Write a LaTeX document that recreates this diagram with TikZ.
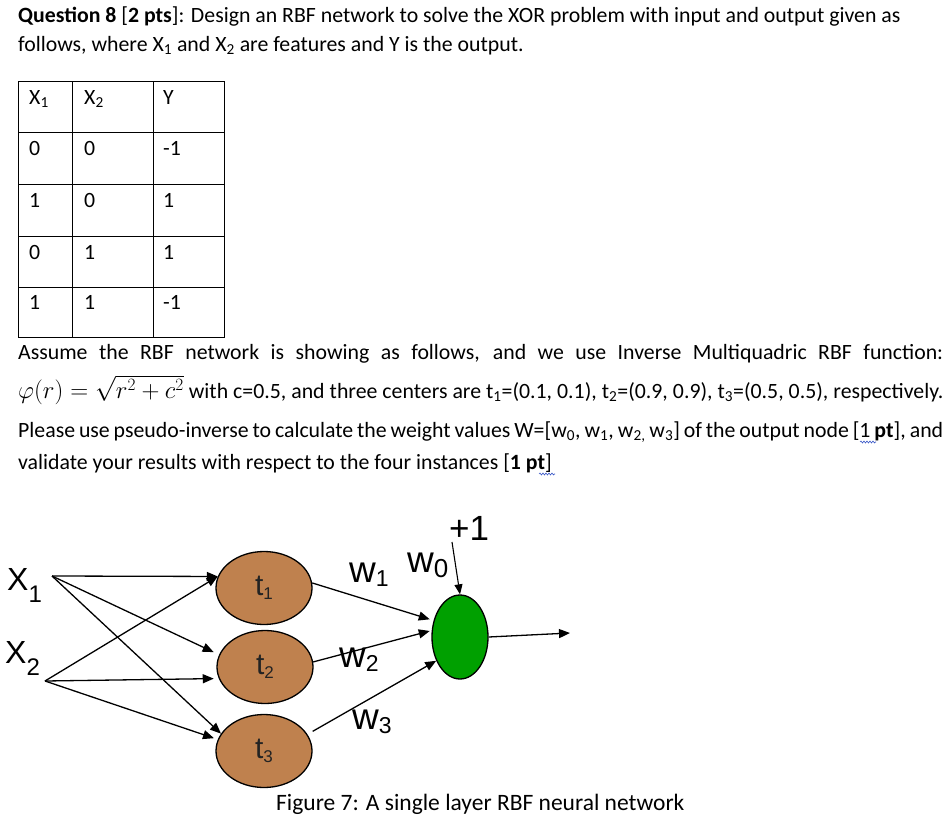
\documentclass[tikz,border=0pt]{standalone}
\usepackage{fontspec}
\setmainfont{Carlito}
\newfontfamily\arialf{Liberation Sans}
\usetikzlibrary{arrows.meta,shapes.geometric,decorations.pathmorphing}
\definecolor{rbfbrown}{RGB}{191,129,78}
\definecolor{outgreen}{RGB}{0,160,0}
\definecolor{squig}{RGB}{60,90,200}
\definecolor{tlabel}{RGB}{35,35,35}
\newcommand{\bodyfs}{\fontsize{21.8}{26}\selectfont}
\newcommand{\sbs}[1]{\textsubscript{#1}}
\begin{document}
\begin{tikzpicture}[x=1pt,y=-1pt,
  txt/.style={anchor=base west, inner sep=0pt, font=\bodyfs},
  cell/.style={anchor=base west, inner sep=0pt, font=\bodyfs},
  tline/.style={line width=0.9pt},
  rbf/.style={ellipse, draw=black, line width=1.3pt, fill=rbfbrown, text=tlabel, minimum width=96pt, minimum height=73pt, inner sep=0pt},
  outn/.style={ellipse, draw=black, line width=1.3pt, fill=outgreen, minimum width=56pt, minimum height=84pt, inner sep=0pt},
  conn/.style={line width=1.3pt, -{Triangle[length=11pt,width=9pt]}},
  lbl/.style={inner sep=0pt, anchor=base west, font=\arialf},
  squiggle/.style={squig, line width=0.6pt, decorate, decoration={snake, amplitude=1pt, segment length=3pt}}]
\useasboundingbox[fill=white] (0,0) rectangle (948,819);

% heading
\node[txt] (h1) at (18,22) {\textbf{Question 8} [\textbf{2 pts}]: Design an RBF network to solve the XOR problem with input and output given as};
\node[txt] (h2) at (18,51) {follows, where X\sbs{1} and X\sbs{2} are features and Y is the output.};

% table
\draw[tline] (18,81) rectangle (224,337);
\foreach \yy in {132,184,236,287} \draw[tline] (18,\yy) -- (224,\yy);
\draw[tline] (72,81) -- (72,337);
\draw[tline] (153,81) -- (153,337);
\node[cell] (c11) at (29,104) {X\sbs{1}};
\node[cell] (c12) at (84,104) {X\sbs{2}};
\node[cell] (c13) at (163,104) {Y};
\node[cell] (c21) at (29,155) {0};
\node[cell] (c22) at (84,155) {0};
\node[cell] (c23) at (163,155) {-1};
\node[cell] (c31) at (29,207) {1};
\node[cell] (c32) at (84,207) {0};
\node[cell] (c33) at (163,207) {1};
\node[cell] (c41) at (29,259) {0};
\node[cell] (c42) at (84,259) {1};
\node[cell] (c43) at (163,259) {1};
\node[cell] (c51) at (29,309) {1};
\node[cell] (c52) at (84,309) {1};
\node[cell] (c53) at (163,309) {-1};

% paragraph
\node[txt] (p1) at (18,359) {\makebox[925pt][s]{Assume the RBF network is showing as follows, and we use Inverse Multiquadric RBF function:}};
\node[txt] (p2) at (18,398) {\makebox[925pt][s]{\mbox{\fontsize{24}{28}\selectfont$\varphi(r)=\sqrt{r^{2}+c^{2}}$} with c=0.5, and three centers are t\sbs{1}=(0.1, 0.1), t\sbs{2}=(0.9, 0.9), t\sbs{3}=(0.5, 0.5), respectively.}};
\node[txt] (p3) at (18,437) {\makebox[925pt][s]{Please use pseudo-inverse to calculate the weight values W=[w\sbs{0}, w\sbs{1}, w\sbs{2,} w\sbs{3}] of the output node [1 \textbf{pt}], and}};
\node[txt] (p4) at (18,469) {validate your results with respect to the four instances [\textbf{1 pt}]};
\draw[squiggle] (860,442) -- (876,442);
\draw[squiggle] (539,474) -- (555,474);

% network
\node[lbl, font=\arialf\fontsize{32}{36}\selectfont] (x1) at (7,590) {X\raisebox{-0.4em}{\fontsize{24}{26}\selectfont 1}};
\node[lbl, font=\arialf\fontsize{32}{36}\selectfont] (x2) at (5,663) {X\raisebox{-0.4em}{\fontsize{24}{26}\selectfont 2}};
\coordinate (x1o) at (52,576);
\coordinate (x2o) at (45,681);

\node[rbf] (t1) at (264,588) {\arialf\fontsize{30}{32}\selectfont t\raisebox{-0.12em}{\fontsize{17}{18}\selectfont 1}};
\node[rbf] (t2) at (265,667) {\arialf\fontsize{30}{32}\selectfont t\raisebox{-0.12em}{\fontsize{17}{18}\selectfont 2}};
\node[rbf] (t3) at (264,751) {\arialf\fontsize{30}{32}\selectfont t\raisebox{-0.12em}{\fontsize{17}{18}\selectfont 3}};
\node[outn] (out) at (460,637) {};

\draw[conn] (x1o) -- (t1.166);
\draw[conn, shorten >=6pt] (x1o) -- (t2.165);
\draw[conn] (x1o) -- (t3.158);
\draw[conn] (x2o) -- (t1.166);
\draw[conn, shorten >=5pt] (x2o) -- (t2.194);
\draw[conn, shorten >=4pt] (x2o) -- (t3.166);

\draw[conn, shorten >=4pt] (t1.6) -- (out.148);
\draw[conn, shorten >=2pt] (t2.6) -- (out.167);
\draw[conn, shorten <=6pt] (t3.21) -- (out.225);
\coordinate (yout) at (570,633);
\draw[conn] (out.east) -- (yout);
\coordinate (bias) at (452,542);
\draw[line width=1.1pt, -{Triangle[length=10pt,width=8pt]}] (bias) -- (out.north);

\node[lbl, font=\arialf\fontsize{35}{38}\selectfont] (plus) at (449,540) {+1};
\node[lbl, font=\arialf\fontsize{37}{40}\selectfont] (w1) at (349,582) {w\raisebox{-0.12em}{\fontsize{23}{25}\selectfont 1}};
\node[lbl, font=\arialf\fontsize{37}{40}\selectfont] (w0) at (407,572) {w\raisebox{-0.15em}{\fontsize{26}{28}\selectfont 0}};
\node[lbl, font=\arialf\fontsize{37}{40}\selectfont] (w2) at (339,667) {w\raisebox{-0.12em}{\fontsize{23}{25}\selectfont 2}};
\node[lbl, font=\arialf\fontsize{37}{40}\selectfont] (w3) at (352,729) {w\raisebox{-0.12em}{\fontsize{23}{25}\selectfont 3}};

\node[txt, font=\fontsize{23.5}{28}\selectfont] (cap) at (276,810) {Figure 7: A single layer RBF neural network};
\end{tikzpicture}
\end{document}
